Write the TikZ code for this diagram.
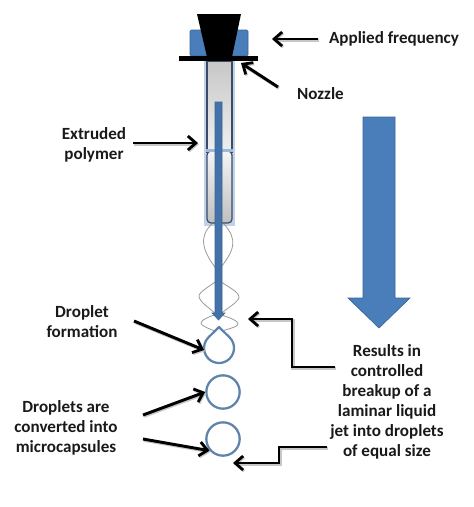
\documentclass[tikz,border=0pt]{standalone}
\usepackage{fontspec}
\setmainfont{Carlito}
\usetikzlibrary{arrows.meta,positioning,calc}
\definecolor{jetblue}{HTML}{4A7EBB}
\definecolor{jetdark}{HTML}{3A6496}
\definecolor{ringblue}{HTML}{5F83AB}
\definecolor{tubeline}{HTML}{3C4A66}

\begin{document}
\begin{tikzpicture}[x=0.75pt, y=-0.75pt,
  lbl/.style={font=\fontsize{12.8}{15}\selectfont\bfseries, align=center, inner sep=0pt, text=black!90},
  pointer/.style={line width=2.2pt, black, -{Straight Barb[length=6pt,width=10.5pt,line width=2.1pt]},
    preaction={draw=black!22, line width=2.4pt, transform canvas={xshift=0.7pt,yshift=-0.9pt}}},
  capsule/.style={circle, draw=ringblue, line width=1.7pt, fill=white, minimum size=25pt, inner sep=0pt},
  wave/.style={draw=black!40, line width=0.6pt},
  tube/.style={draw=tubeline, line width=0.9pt}
]
  \useasboundingbox (0,0) rectangle (474,507);
  % Nozzle head and tube
  \fill[jetblue!35] (204,60) rectangle (235,226);
  \draw[tube, top color=black!22, bottom color=black!6] (207,61) rectangle (232,152);
  \draw[tube, rounded corners=3pt, top color=black!4, bottom color=black!25] (207,151) rectangle (232,223);
  \fill[jetblue!55] (206,149) rectangle (233,152);
  \draw[draw=jetdark, fill=jetblue, rounded corners=1pt] (190,30) rectangle (248,56);
  \fill[black] (197,14) -- (241,14) -- (232,57) -- (207,57) -- cycle;
  \fill[black] (179,56) rectangle (258,61);
  % Jet breaking up
  \draw[wave] (212,224) .. controls (199,236) and (201,250) .. (218,271)
    .. controls (235,250) and (238,240) .. (224,224);
  \draw[wave] (218,280) .. controls (210,286) and (199,292) .. (199,296)
    .. controls (199,302) and (210,308) .. (218,316)
    .. controls (227,308) and (239,302) .. (239,297)
    .. controls (239,292) and (227,286) .. (218,280);
  \draw[wave] (218,314) .. controls (210,316) and (201,320) .. (201,323)
    .. controls (201,326) and (212,330) .. (218,332)
    .. controls (225,330) and (238,327) .. (238,324)
    .. controls (238,320) and (225,316) .. (218,314);
  \draw[draw=jetdark, fill=jetblue!90!black, line width=0.4pt] (215,102) -- (222,102) -- (222,313) -- (225,313)
    -- (218.5,320) -- (212,313) -- (215,313) -- cycle;
  % Droplets
  \draw[ringblue, line width=1.7pt, line join=round, fill=white] (219,327) -- (229.5,337.3)
    arc[start angle=-45.6, end angle=225.6, radius=15] -- cycle;
  \coordinate (droptip) at (204,350);
  \node[capsule] (capsuleA) at (223,392) {};
  \node[capsule] (capsuleB) at (223,439) {};
  % Big flow arrow
  \draw[draw=jetdark, fill=jetblue, line width=0.5pt] (363,117) -- (395,117) -- (395,298) -- (410,298)
    -- (379,328) -- (348,298) -- (363,298) -- cycle;
  % Labels
  \node[lbl] (freq) at (394,39) {Applied frequency};
  \node[lbl] (nozzle) at (320.5,94) {Nozzle};
  \node[lbl] (polymer) at (94,144.5) {Extruded\\polymer};
  \node[lbl] (formation) at (82,322) {Droplet\\formation};
  \node[lbl] (converted) at (66,427.5) {Droplets are\\converted into\\microcapsules};
  \node[lbl] (results) at (387,402) {Results in\\controlled\\breakup of a\\laminar liquid\\jet into droplets\\of equal size};
  % Connector ends
  \coordinate (nozzletip) at (241,63);
  \coordinate (nozzlefrom) at (278,87);
  \coordinate (freqfrom) at (318,39);
  \coordinate (freqtip) at (272,39);
  \coordinate (polymertip) at (198,143);
  \coordinate (polymerfrom) at (133,143);
  \coordinate (formfrom) at (134,321);
  \coordinate (convfromA) at (143,415);
  \coordinate (convfromB) at (143,439);
  \coordinate (breaktip) at (248,319);
  \coordinate (resfromA) at (335,367);
  \coordinate (resfromB) at (327,447);
  \coordinate (sizetip) at (233,463);
  % Connectors
  \draw[pointer] (freqfrom) -- (freqtip);
  \draw[pointer] (nozzlefrom) -- (nozzletip);
  \draw[pointer] (polymerfrom) -- (polymertip);
  \draw[pointer] (formfrom) -- (droptip);
  \draw[pointer] (convfromA) -- (capsuleA.west);
  \draw[pointer] (convfromB) -- (capsuleB.221);
  \draw[pointer] (resfromA) -- (292,367) -- (292,319) -- (breaktip);
  \draw[pointer] (resfromB) -- (279,447) -- (279,463) -- (sizetip);
\end{tikzpicture}
\end{document}
